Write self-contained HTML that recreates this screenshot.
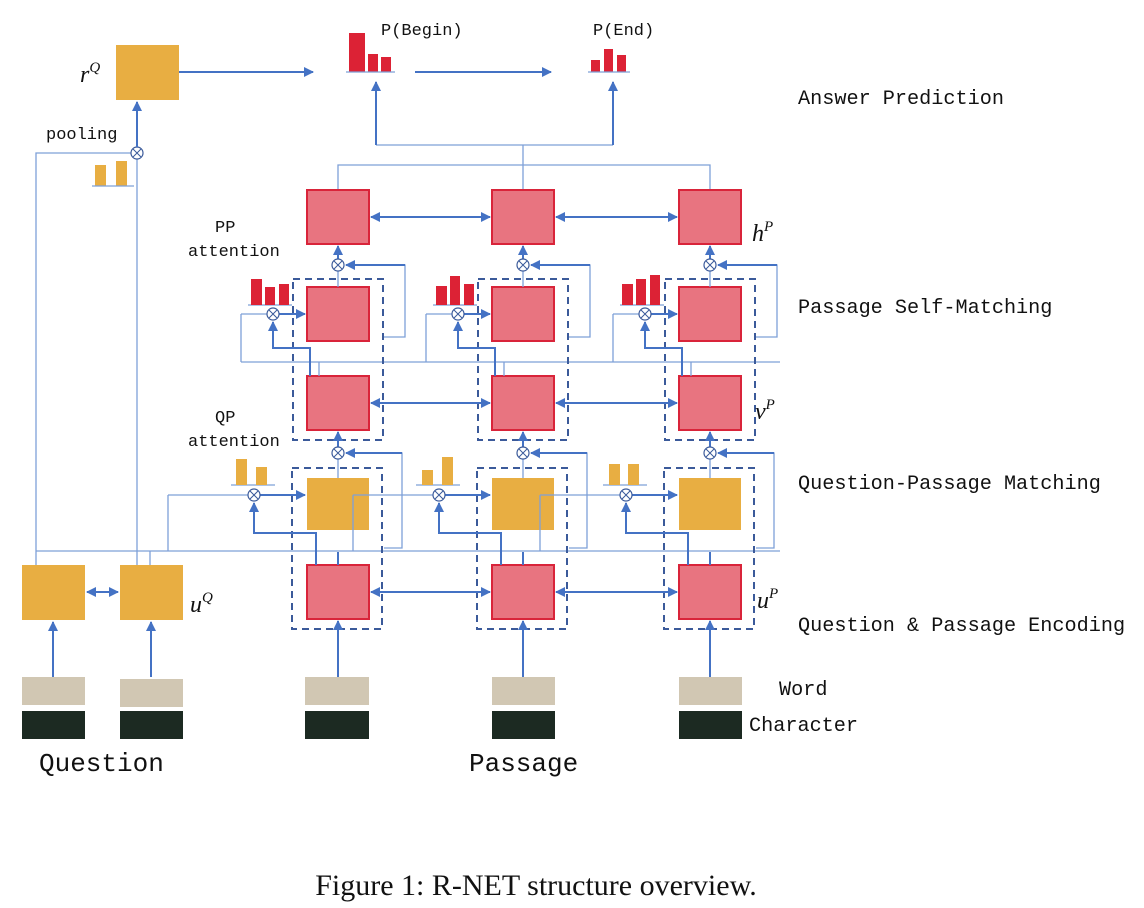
<!DOCTYPE html>
<html><head><meta charset="utf-8"><style>
html,body{margin:0;padding:0;background:#fff;}
svg{display:block}
.m{font-family:"Liberation Mono","DejaVu Sans Mono",monospace;fill:#111}
.i{font-family:"Liberation Serif",serif;font-style:italic;fill:#111}
</style></head><body>
<svg width="1144" height="908" viewBox="0 0 1144 908" xmlns="http://www.w3.org/2000/svg">
<defs>
<marker id="a" viewBox="0 0 10 10" refX="9" refY="5" markerWidth="5" markerHeight="5" orient="auto-start-reverse"><path d="M0,0L10,5L0,10z" fill="#4472c4"/></marker>
<g id="ot"><circle r="6" fill="#fff" stroke="#3b5a9a" stroke-width="1.2"/><path d="M-4,-4L4,4M-4,4L4,-4" stroke="#3b5a9a" stroke-width="1"/></g>
<g id="red"><rect width="62" height="54" fill="#e87480" stroke="#d9243a" stroke-width="2"/></g>
</defs>
<g fill="none" stroke="#7ea0d8" stroke-width="1.3">
<path d="M36,565V153H131M137,565V159"/>
<path d="M338,190V165H710V190M523,190V145M376,145H613"/>
<path d="M36,551H780M150,551V565"/>
<path d="M241,362H780"/>
</g>
<g fill="none" stroke="#3b5a9a" stroke-width="2" stroke-dasharray="7,5">
<rect x="293" y="279" width="90" height="161"/><rect x="292" y="468" width="90" height="161"/>
<rect x="478" y="279" width="90" height="161"/><rect x="477" y="468" width="90" height="161"/>
<rect x="665" y="279" width="90" height="161"/><rect x="664" y="468" width="90" height="161"/>
</g>
<g>
<use href="#red" x="307" y="190"/>
<use href="#red" x="307" y="287"/>
<use href="#red" x="307" y="376"/>
<rect x="307" y="478" width="62" height="52" fill="#e8ae42"/>
<use href="#red" x="307" y="565"/>
<g fill="none" stroke="#7ea0d8" stroke-width="1.3">
<path d="M241,314H267M241,314V362M319,362V376M384,337H405V265H346M168,495H248M168,495V551M384,548H402V453H346M338,287V271M338,478V459"/>
</g>
<g fill="none" stroke="#4472c4" stroke-width="2">
<path d="M338,677V621" marker-end="url(#a)"/>
<path d="M338,565V552" />
<path d="M338,259V246" marker-end="url(#a)"/>
<path d="M338,447V432" marker-end="url(#a)"/>
<path d="M346,265H405" marker-start="url(#a)"/>
<path d="M346,453H402" marker-start="url(#a)"/>
<path d="M279,314H305" marker-end="url(#a)"/>
<path d="M260,495H305" marker-end="url(#a)"/>
<path d="M310,376V348H273V322" marker-end="url(#a)"/>
<path d="M316,565V533H254V503" marker-end="url(#a)"/>
</g>
<use href="#ot" x="338" y="265"/><use href="#ot" x="338" y="453"/>
<use href="#ot" x="273" y="314"/><use href="#ot" x="254" y="495"/>
<path d="M248,305H292M231,485H275" stroke="#7ea0d8" stroke-width="1.3"/>
</g>
<g transform="translate(185,0)">
<use href="#red" x="307" y="190"/><use href="#red" x="307" y="287"/><use href="#red" x="307" y="376"/>
<rect x="307" y="478" width="62" height="52" fill="#e8ae42"/><use href="#red" x="307" y="565"/>
<g fill="none" stroke="#7ea0d8" stroke-width="1.3"><path d="M241,314H267M241,314V362M319,362V376M384,337H405V265H346M168,495H248M168,495V551M384,548H402V453H346M338,287V271M338,478V459"/></g>
<g fill="none" stroke="#4472c4" stroke-width="2">
<path d="M338,677V621" marker-end="url(#a)"/><path d="M338,565V552"/><path d="M338,259V246" marker-end="url(#a)"/><path d="M338,447V432" marker-end="url(#a)"/><path d="M346,265H405" marker-start="url(#a)"/><path d="M346,453H402" marker-start="url(#a)"/><path d="M279,314H305" marker-end="url(#a)"/><path d="M260,495H305" marker-end="url(#a)"/><path d="M310,376V348H273V322" marker-end="url(#a)"/><path d="M316,565V533H254V503" marker-end="url(#a)"/>
</g>
<use href="#ot" x="338" y="265"/><use href="#ot" x="338" y="453"/><use href="#ot" x="273" y="314"/><use href="#ot" x="254" y="495"/>
<path d="M248,305H292M231,485H275" stroke="#7ea0d8" stroke-width="1.3"/>
</g>
<g transform="translate(372,0)">
<use href="#red" x="307" y="190"/><use href="#red" x="307" y="287"/><use href="#red" x="307" y="376"/>
<rect x="307" y="478" width="62" height="52" fill="#e8ae42"/><use href="#red" x="307" y="565"/>
<g fill="none" stroke="#7ea0d8" stroke-width="1.3"><path d="M241,314H267M241,314V362M319,362V376M384,337H405V265H346M168,495H248M168,495V551M384,548H402V453H346M338,287V271M338,478V459"/></g>
<g fill="none" stroke="#4472c4" stroke-width="2">
<path d="M338,677V621" marker-end="url(#a)"/><path d="M338,565V552"/><path d="M338,259V246" marker-end="url(#a)"/><path d="M338,447V432" marker-end="url(#a)"/><path d="M346,265H405" marker-start="url(#a)"/><path d="M346,453H402" marker-start="url(#a)"/><path d="M279,314H305" marker-end="url(#a)"/><path d="M260,495H305" marker-end="url(#a)"/><path d="M310,376V348H273V322" marker-end="url(#a)"/><path d="M316,565V533H254V503" marker-end="url(#a)"/>
</g>
<use href="#ot" x="338" y="265"/><use href="#ot" x="338" y="453"/><use href="#ot" x="273" y="314"/><use href="#ot" x="254" y="495"/>
<path d="M248,305H292M231,485H275" stroke="#7ea0d8" stroke-width="1.3"/>
</g>
<g fill="#dc2235">
<rect x="251" y="279" width="11" height="26"/><rect x="265" y="287" width="10" height="18"/><rect x="279" y="284" width="10" height="21"/>
<rect x="436" y="286" width="11" height="19"/><rect x="450" y="276" width="10" height="29"/><rect x="464" y="284" width="10" height="21"/>
<rect x="622" y="284" width="11" height="21"/><rect x="636" y="279" width="10" height="26"/><rect x="650" y="275" width="10" height="30"/>
<rect x="349" y="33" width="16" height="39"/><rect x="368" y="54" width="10" height="18"/><rect x="381" y="57" width="10" height="15"/>
<rect x="591" y="60" width="9" height="12"/><rect x="604" y="49" width="9" height="23"/><rect x="617" y="55" width="9" height="17"/>
</g>
<path d="M346,72H395M588,72H630" stroke="#7ea0d8" stroke-width="1.3"/>
<g fill="#e8ae42">
<rect x="236" y="459" width="11" height="26"/><rect x="256" y="467" width="11" height="18"/>
<rect x="422" y="470" width="11" height="15"/><rect x="442" y="457" width="11" height="28"/>
<rect x="609" y="464" width="11" height="21"/><rect x="628" y="464" width="11" height="21"/>
<rect x="95" y="165" width="11" height="21"/><rect x="116" y="161" width="11" height="25"/>
<rect x="116" y="45" width="63" height="55"/>
<rect x="22" y="565" width="63" height="55"/><rect x="120" y="565" width="63" height="55"/>
</g>
<path d="M92,186H134" stroke="#7ea0d8" stroke-width="1.3"/>
<use href="#ot" x="137" y="153"/>
<g fill="none" stroke="#4472c4" stroke-width="2">
<path d="M137,147V102" marker-end="url(#a)"/>
<path d="M179,72H313" marker-end="url(#a)"/>
<path d="M415,72H551" marker-end="url(#a)"/>
<path d="M376,145V82" marker-end="url(#a)"/>
<path d="M613,145V82" marker-end="url(#a)"/>
<path d="M87,592H118" marker-start="url(#a)" marker-end="url(#a)"/>
<path d="M53,677V622" marker-end="url(#a)"/><path d="M151,677V622" marker-end="url(#a)"/>
<path d="M371,217H490" marker-start="url(#a)" marker-end="url(#a)"/>
<path d="M556,217H677" marker-start="url(#a)" marker-end="url(#a)"/>
<path d="M371,403H490" marker-start="url(#a)" marker-end="url(#a)"/>
<path d="M556,403H677" marker-start="url(#a)" marker-end="url(#a)"/>
<path d="M371,592H490" marker-start="url(#a)" marker-end="url(#a)"/>
<path d="M556,592H677" marker-start="url(#a)" marker-end="url(#a)"/>
</g>
<g fill="#d1c7b3">
<rect x="22" y="677" width="63" height="28"/><rect x="120" y="679" width="63" height="28"/><rect x="305" y="677" width="64" height="28"/><rect x="492" y="677" width="63" height="28"/><rect x="679" y="677" width="63" height="28"/>
</g>
<g fill="#1c2a22">
<rect x="22" y="711" width="63" height="28"/><rect x="120" y="711" width="63" height="28"/><rect x="305" y="711" width="64" height="28"/><rect x="492" y="711" width="63" height="28"/><rect x="679" y="711" width="63" height="28"/>
</g>
<g class="m" font-size="17">
<text x="381" y="35">P(Begin)</text><text x="593" y="35">P(End)</text>
<text x="46" y="139">pooling</text>
<text x="215" y="232">PP</text><text x="188" y="256">attention</text>
<text x="215" y="422">QP</text><text x="188" y="446">attention</text>
</g>
<g class="m" font-size="20.2">
<text x="798" y="104">Answer Prediction</text>
<text x="798" y="313">Passage Self-Matching</text>
<text x="798" y="489">Question-Passage Matching</text>
<text x="798" y="631">Question &amp; Passage Encoding</text>
<text x="779" y="695">Word</text>
<text x="749" y="731">Character</text>
</g>
<g class="m" font-size="26"><text x="39" y="771">Question</text><text x="469" y="771">Passage</text></g>
<g class="i" font-size="24">
<text x="80" y="82">r<tspan font-size="15" dy="-10">Q</tspan></text>
<text x="752" y="241">h<tspan font-size="15" dy="-10">P</tspan></text>
<text x="755" y="419">v<tspan font-size="15" dy="-10">P</tspan></text>
<text x="190" y="612">u<tspan font-size="15" dy="-10">Q</tspan></text>
<text x="757" y="608">u<tspan font-size="15" dy="-10">P</tspan></text>
</g>
<text x="536" y="895" text-anchor="middle" font-family="Liberation Serif,serif" font-size="30" fill="#111">Figure 1: R-NET structure overview.</text>
</svg>
</body></html>
